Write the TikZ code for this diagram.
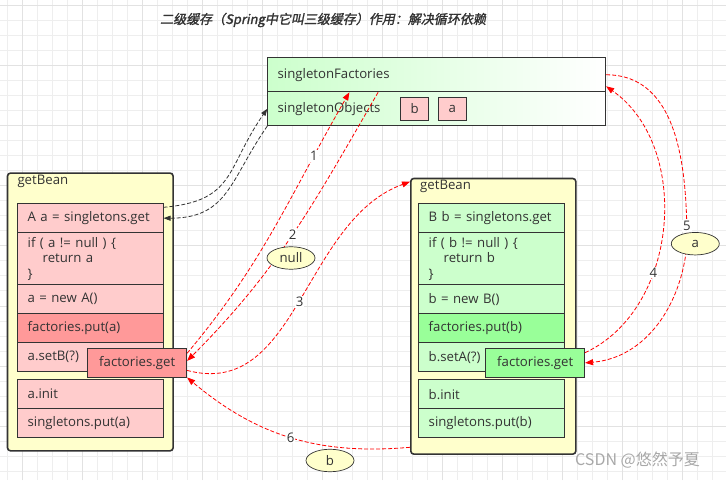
\documentclass[tikz,border=0pt]{standalone}
\usepackage{fontspec}
\setmainfont{Open Sans}
\newfontfamily\cjk{Noto Sans CJK SC}
\newfontfamily\cjktitle[FakeSlant=0.2,FakeBold=1.5]{Noto Sans CJK SC}
\usetikzlibrary{arrows.meta,shapes.geometric}
\definecolor{txt}{HTML}{333333}
\definecolor{pinkrow}{HTML}{FFCCCC}
\definecolor{pinkhot}{HTML}{FF9999}
\definecolor{greenrow}{HTML}{CCFFCC}
\definecolor{greenhot}{HTML}{99FF99}
\definecolor{beanbg}{HTML}{FFFFCC}
\definecolor{gridminor}{HTML}{EEEEEE}
\definecolor{gridmajor}{HTML}{E2E2E2}
\definecolor{mark}{HTML}{A8A8A8}
\begin{document}
\begin{tikzpicture}[x=1pt, y=1pt,
        every node/.style = {font=\fontsize{13.2}{15.5}\selectfont, text=txt},
        row/.style = {draw=txt, line width=0.8pt, fill=#1, anchor=north west, minimum height=29pt,
            text width=125.4pt, inner xsep=10pt, inner ysep=0pt, align=left},
        bean/.style = {draw=txt, line width=1.6pt, fill=beanbg, rounded corners=3pt, anchor=north west, inner sep=0pt},
        cache/.style = {draw=txt, line width=0.8pt, left color=greenrow, right color=white, anchor=north west,
            text width=318pt, inner xsep=10pt, inner ysep=0pt, align=left},
        obj/.style = {draw=txt, line width=0.8pt, fill=pinkrow, minimum width=27.8pt, minimum height=23pt, inner sep=0pt},
        getbox/.style = {draw=txt, line width=0.8pt, fill=#1, anchor=north west, minimum width=99pt, minimum height=28.4pt, inner sep=0pt},
        note/.style = {ellipse, draw=txt, line width=0.7pt, fill=beanbg, minimum width=48pt, minimum height=22.5pt, inner sep=0pt},
        num/.style = {fill=white, inner sep=1pt},
        redarr/.style = {red, line width=0.8pt, dash pattern=on 4pt off 2pt, -{Triangle[length=8pt,width=6pt]}},
        blkarr/.style = {txt, line width=0.8pt, dash pattern=on 4pt off 2pt, -{Triangle[length=7pt,width=5pt]}},
        minor/.style = {gridminor, line width=1pt},
        major/.style = {gridmajor, line width=1pt}
    ]
    \useasboundingbox (0,0) rectangle (726,480);
    \fill[white] (0,0) rectangle (726,480);
    % grid
    \foreach \x in {7.3,22.3,...,725} \draw[minor] (\x,0) -- (\x,480);
    \foreach \y in {9,24,...,474} \draw[minor] (0,\y) -- (726,\y);
    \foreach \x in {22.3,82.3,...,725} \draw[major] (\x,0) -- (\x,480);
    \foreach \y in {54,114,...,474} \draw[major] (0,\y) -- (726,\y);

    \node[inner sep=0pt, anchor=west] (title) at (160,460) {\cjktitle\fontsize{13}{15}\selectfont 二级缓存（Spring中它叫三级缓存）作用：解决循环依赖};

    % caches
    \node[cache, minimum height=34.2pt] (sf) at (267.3,422.7) {singletonFactories};
    \node[cache, minimum height=33.8pt] (so) at (267.3,388.5) {singletonObjects};
    \node[obj] (ob) at (414.6,371.2) {b};
    \node[obj] (oa) at (452.4,371.2) {a};

    % getBean for a
    \node[bean, minimum width=165.6pt, minimum height=277.7pt] (beanA) at (6.7,307.7) {};
    \node[anchor=west, inner sep=0pt] (tA) at (17.3,299) {getBean};
    \node[row=pinkrow] (a1) at (17.3,276.7) {A a = singletons.get};
    \node[row=pinkrow, minimum height=52pt] (a2) at (17.3,247.7) {if ( a != null ) \{\\\hspace*{15pt}return a\\\}};
    \node[row=pinkrow] (a3) at (17.3,195.7) {a = new A()};
    \node[row=pinkhot] (a4) at (17.3,166.7) {factories.put(a)};
    \node[row=pinkrow] (a5) at (17.3,137.7) {a.setB(?)};
    \node[row=pinkrow] (a6) at (17.3,100.7) {a.init};
    \node[row=pinkrow] (a7) at (17.3,71.7) {singletons.put(a)};
    \node[getbox=pinkhot] (fA) at (87.3,131.7) {factories.get};

    % getBean for b
    \node[bean, minimum width=165pt, minimum height=275.6pt] (beanB) at (410,302.3) {};
    \node[anchor=west, inner sep=0pt] (tB) at (420,293.3) {getBean};
    \node[row=greenrow] (b1) at (418.3,276.7) {B b = singletons.get};
    \node[row=greenrow, minimum height=52pt] (b2) at (418.3,247.7) {if ( b != null ) \{\\\hspace*{15pt}return b\\\}};
    \node[row=greenrow] (b3) at (418.3,195.7) {b = new B()};
    \node[row=greenhot] (b4) at (418.3,166.7) {factories.put(b)};
    \node[row=greenrow] (b5) at (418.3,137.7) {b.setA(?)};
    \node[row=greenrow] (b6) at (418.3,100.7) {b.init};
    \node[row=greenrow] (b7) at (418.3,71.7) {singletons.put(b)};
    \node[getbox=greenhot] (fB) at (485.3,131.7) {factories.get};

    \coordinate (pa) at (687,236);

    % lookups
    \draw[blkarr] ([yshift=-4pt]a1.north east) to[out=5, in=235, looseness=1.3] (so.west);
    \draw[blkarr] (so.south west) to[out=235, in=0, looseness=1.2] (a1.east);
    \draw[redarr] ([yshift=-5pt]fA.north east) to[out=50, in=-120] node[num, pos=0.78] {1} ([xshift=-87.3pt]sf.south);
    \draw[redarr] ([xshift=-58.6pt]sf.south) to[out=-120, in=45] node[num] {2} ([yshift=2pt]fA.east);
    \draw[redarr] ([yshift=-7.5pt]fA.east) to[out=-15, in=200] node[num] {3} ([yshift=-4pt]beanB.north west);
    \draw[redarr] ([yshift=-4.4pt]fB.north east) to[out=25, in=-35] node[num, pos=0.35] {4} ([yshift=6pt]sf.south east);
    \draw[redarr] (sf.east) to[out=0, in=90] node[num, pos=0.92] {5} (pa) to[out=-95, in=5] (fB.east);
    \draw[redarr] ([yshift=7.6pt]beanB.south west) to[out=185, in=-40] node[num] {6} (fA.south east);

    % results
    \node[note] (nn) at (291,222) {null};
    \node[note] (na) at (695.3,236.3) {a};
    \node[note] (nb) at (330,19.5) {b};

    \node[anchor=west, inner sep=0pt, text=mark] (csdn) at (575,20) {\cjk\fontsize{16}{18}\selectfont CSDN @悠然予夏};
\end{tikzpicture}
\end{document}
